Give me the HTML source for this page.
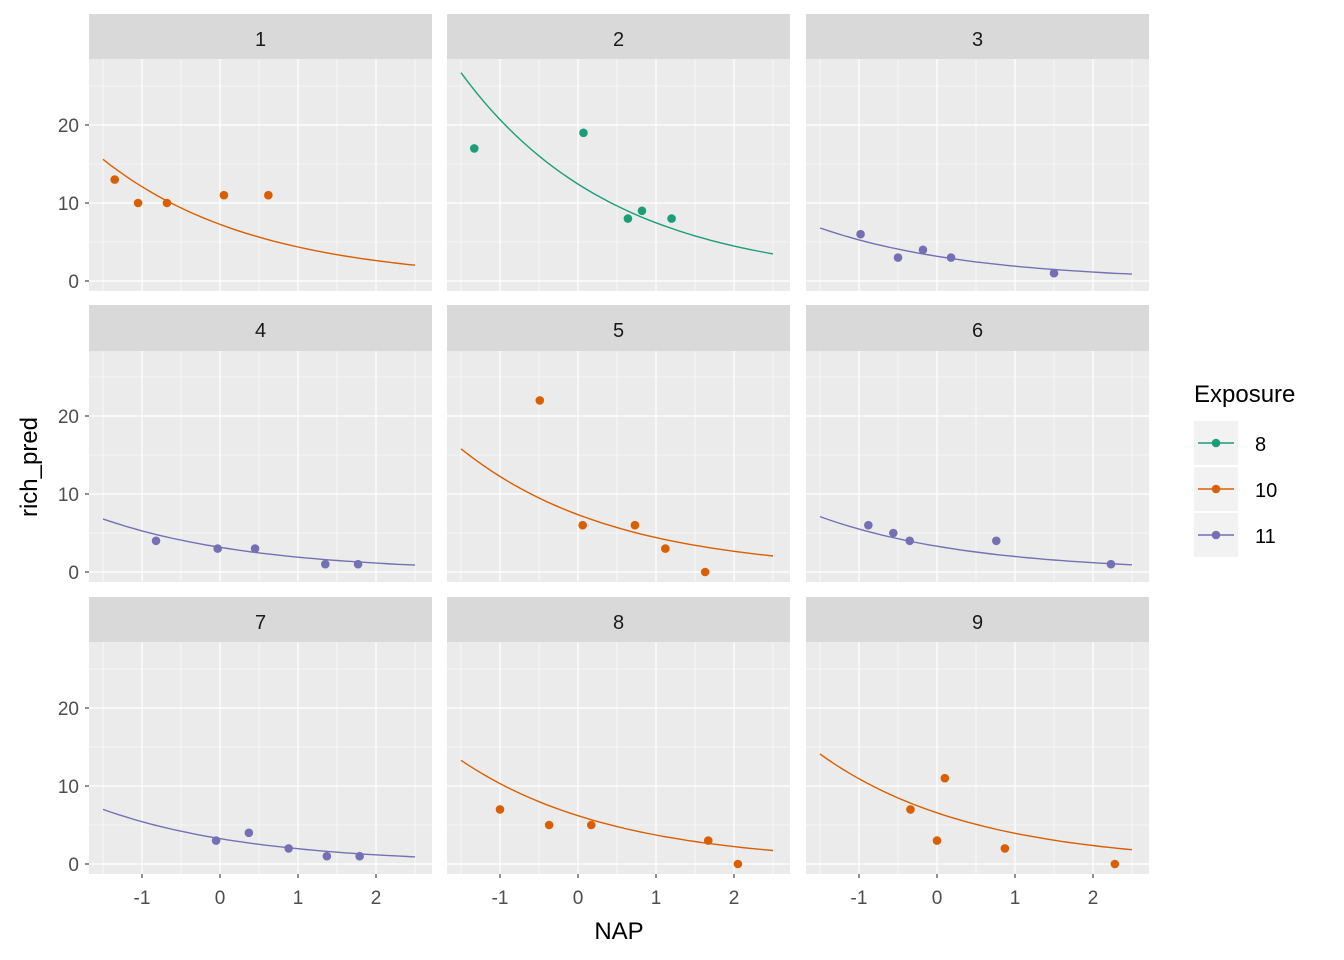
<!DOCTYPE html>
<html><head><meta charset="utf-8"><style>body{margin:0;background:#fff}svg{display:block}text{font-family:"Liberation Sans",sans-serif}</style></head>
<body><svg id="s" width="1344" height="960" xmlns="http://www.w3.org/2000/svg"></svg>
<script>
const s=document.getElementById('s');let h='';
const cols=[89,447,806],W=343;
const rows=[[14,59,291],[305,351,582],[597,642,874]];
const C={8:'#1B9E77',10:'#D95F02',11:'#7570B3'};
const P=[
[15.6,10,[[-1.35,13],[-1.05,10],[-0.68,10],[0.05,11],[0.62,11]]],
[26.7,8,[[-1.33,17],[0.07,19],[0.64,8],[0.82,9],[1.2,8]]],
[6.8,11,[[-0.98,6],[-0.5,3],[-0.18,4],[0.18,3],[1.5,1]]],
[6.8,11,[[-0.82,4],[-0.03,3],[0.45,3],[1.35,1],[1.77,1]]],
[15.8,10,[[-0.49,22],[0.06,6],[0.73,6],[1.12,3],[1.63,0]]],
[7.1,11,[[-0.88,6],[-0.56,5],[-0.35,4],[0.76,4],[2.23,1]]],
[7.0,11,[[-0.05,3],[0.37,4],[0.88,2],[1.37,1],[1.79,1]]],
[13.3,10,[[-1.0,7],[-0.37,5],[0.17,5],[1.67,3],[2.05,0]]],
[14.1,10,[[-0.34,7],[0.1,11],[0.0,3],[0.87,2],[2.28,0]]]];
for(let i=0;i<9;i++){
 const r=Math.floor(i/3),c=i%3,x0=cols[c],[st,t,b]=rows[r];
 const X=v=>x0+53+(v+1)*78, Y=v=>b-10-v*7.8;
 h+=`<rect x="${x0}" y="${st}" width="${W}" height="${t-st}" fill="#D9D9D9"/>`;
 h+=`<text x="${x0+W/2}" y="${st+32}" font-size="20" fill="#1A1A1A" text-anchor="middle">${i+1}</text>`;
 h+=`<rect x="${x0}" y="${t}" width="${W}" height="${b-t}" fill="#EBEBEB"/>`;
 for(const v of [5,15,25])h+=`<line x1="${x0}" x2="${x0+W}" y1="${Y(v)}" y2="${Y(v)}" stroke="#fff" stroke-width="0.6"/>`;
 for(const v of [-1.5,-0.5,0.5,1.5,2.5])h+=`<line y1="${t}" y2="${b}" x1="${X(v)}" x2="${X(v)}" stroke="#fff" stroke-width="0.6"/>`;
 for(const v of [0,10,20])h+=`<line x1="${x0}" x2="${x0+W}" y1="${Y(v)}" y2="${Y(v)}" stroke="#fff" stroke-width="1.2"/>`;
 for(const v of [-1,0,1,2])h+=`<line y1="${t}" y2="${b}" x1="${X(v)}" x2="${X(v)}" stroke="#fff" stroke-width="1.2"/>`;
 const [a,e,pts]=P[i],col=C[e];let d='';
 for(let k=0;k<=40;k++){const v=-1.5+k*0.1;d+=(k?'L':'M')+X(v).toFixed(1)+','+Y(a*Math.exp(-0.51*(v+1.5))).toFixed(1);}
 h+=`<path d="${d}" fill="none" stroke="${col}" stroke-width="1.4"/>`;
 for(const [px,py] of pts)h+=`<circle cx="${X(px)}" cy="${Y(py)}" r="4.3" fill="${col}"/>`;
 if(c==0)for(const v of [0,10,20]){h+=`<line x1="${x0-4}" x2="${x0}" y1="${Y(v)}" y2="${Y(v)}" stroke="#333" stroke-width="1.1"/>`;h+=`<text x="${x0-10}" y="${Y(v)+7}" font-size="19" fill="#4D4D4D" text-anchor="end">${v}</text>`;}
 if(r==2)for(const v of [-1,0,1,2]){h+=`<line y1="${b}" y2="${b+4}" x1="${X(v)}" x2="${X(v)}" stroke="#333" stroke-width="1.1"/>`;h+=`<text x="${X(v)}" y="${b+30}" font-size="19" fill="#4D4D4D" text-anchor="middle">${v}</text>`;}
}
h+=`<text x="619" y="939" font-size="24" fill="#000" text-anchor="middle">NAP</text>`;
h+=`<text transform="translate(37,467) rotate(-90)" font-size="24" fill="#000" text-anchor="middle">rich_pred</text>`;
h+=`<text x="1194" y="402" font-size="24" fill="#000">Exposure</text>`;
[[8,443],[10,489],[11,535]].forEach(([e,y])=>{
 h+=`<rect x="1194" y="${y-22}" width="44" height="44" fill="#F2F2F2"/>`;
 h+=`<line x1="1198" x2="1234" y1="${y}" y2="${y}" stroke="${C[e]}" stroke-width="1.4"/><circle cx="1216" cy="${y}" r="4.3" fill="${C[e]}"/>`;
 h+=`<text x="1255" y="${y+8}" font-size="20" fill="#000">${e}</text>`;});
s.innerHTML=h;
</script></body></html>
